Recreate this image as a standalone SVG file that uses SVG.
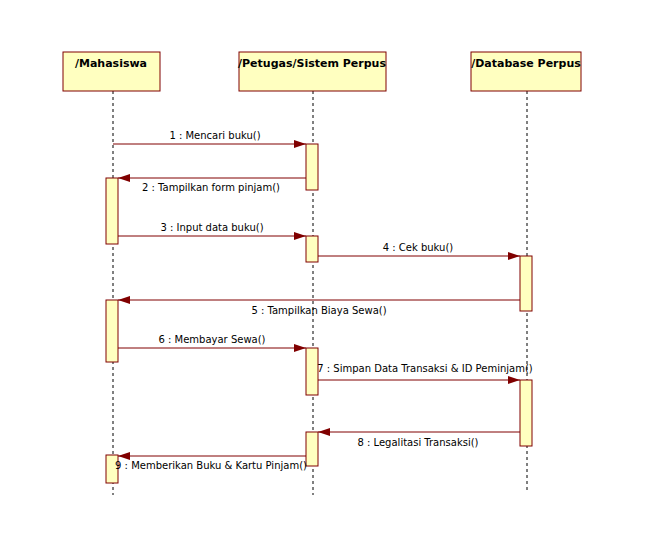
<svg xmlns="http://www.w3.org/2000/svg" width="666" height="554" viewBox="0 0 666 554">
<style>
.box{fill:#ffffc0;stroke:#800000;stroke-width:1}
.hd{font-family:"DejaVu Sans",sans-serif;font-size:11px;font-weight:bold;fill:#000;text-anchor:middle}
.life{stroke:#000;stroke-dasharray:3,3;stroke-width:1}
.msg{stroke:#800000;stroke-width:1;fill:none;marker-end:url(#ah)}
.lb{font-family:"DejaVu Sans",sans-serif;font-size:10px;fill:#000;text-anchor:middle}
</style>
<defs><marker id="ah" markerWidth="12" markerHeight="8" refX="12" refY="4" orient="auto" markerUnits="userSpaceOnUse"><path d="M0,0 L12,4 L0,8 Z" fill="#800000"/></marker></defs>
<rect width="666" height="554" fill="#fff"/>
<g id="mahasiswa"><line class="life" x1="113" y1="91" x2="113" y2="495"/><rect class="box" x="63" y="52" width="97" height="39"/><text class="hd" x="111" y="67">/Mahasiswa</text>
<rect class="box" x="106" y="178" width="12" height="66"/><rect class="box" x="106" y="300" width="12" height="62"/><rect class="box" x="106" y="455" width="12" height="28"/></g>
<g id="petugas"><line class="life" x1="313" y1="91" x2="313" y2="495"/><rect class="box" x="239" y="52" width="147" height="39"/><text class="hd" x="312" y="67">/Petugas/Sistem Perpus</text>
<rect class="box" x="306" y="144" width="12" height="46"/><rect class="box" x="306" y="236" width="12" height="26"/><rect class="box" x="306" y="348" width="12" height="47"/><rect class="box" x="306" y="432" width="12" height="34"/></g>
<g id="database"><line class="life" x1="527" y1="91" x2="527" y2="491"/><rect class="box" x="471" y="52" width="110" height="39"/><text class="hd" x="526" y="67">/Database Perpus</text>
<rect class="box" x="520" y="256" width="12" height="55"/><rect class="box" x="520" y="380" width="12" height="66"/></g>
<g id="connectors">
<line class="msg" x1="113" y1="144" x2="306" y2="144"/><text class="lb" x="215" y="139">1 : Mencari buku()</text>
<line class="msg" x1="306" y1="178" x2="118" y2="178"/><text class="lb" x="211" y="191">2 : Tampilkan form pinjam()</text>
<line class="msg" x1="118" y1="236" x2="306" y2="236"/><text class="lb" x="212" y="231">3 : Input data buku()</text>
<line class="msg" x1="318" y1="256" x2="520" y2="256"/><text class="lb" x="418" y="251">4 : Cek buku()</text>
<line class="msg" x1="520" y1="300" x2="118" y2="300"/><text class="lb" x="319" y="314">5 : Tampilkan Biaya Sewa()</text>
<line class="msg" x1="118" y1="348" x2="306" y2="348"/><text class="lb" x="212" y="343">6 : Membayar Sewa()</text>
<line class="msg" x1="318" y1="380" x2="520" y2="380"/><text class="lb" x="425" y="372">7 : Simpan Data Transaksi &amp; ID Peminjam()</text>
<line class="msg" x1="520" y1="432" x2="318" y2="432"/><text class="lb" x="418" y="446">8 : Legalitasi Transaksi()</text>
<line class="msg" x1="306" y1="456" x2="118" y2="456"/><text class="lb" x="211" y="469">9 : Memberikan Buku &amp; Kartu Pinjam()</text>
</g>
</svg>
